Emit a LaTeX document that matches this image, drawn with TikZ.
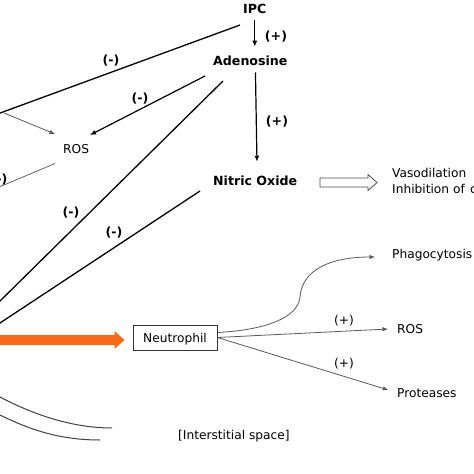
\documentclass[tikz,border=0pt]{standalone}
\usepackage{fontspec}
\setmainfont{DejaVu Sans}
\usetikzlibrary{arrows.meta}
\definecolor{orng}{RGB}{252,104,20}
\begin{document}
\begin{tikzpicture}[x=1pt,y=-1pt,
  tx/.style={font=\fontsize{12.2}{14}\selectfont, inner sep=0pt},
  bl/.style={font=\fontsize{12.6}{15}\selectfont\bfseries, inner sep=0pt},
  ln/.style={line width=1.3pt, black},
  arr/.style={line width=1.2pt, black, -{Latex[length=6pt,width=5pt]}},
  gln/.style={line width=0.8pt, black!60},
  garr/.style={line width=0.8pt, black!65, -{Latex[length=5.5pt,width=4.5pt]}},
  boxst/.style={draw=black!80, line width=0.8pt, inner sep=0pt, minimum width=84pt, minimum height=25pt, font=\fontsize{12.2}{14}\selectfont, text height=9pt, text depth=0pt},
  curv/.style={line width=1pt, black!75}]
\useasboundingbox (0,0) rectangle (474,474);

% nodes
\node[bl, anchor=base west] (ipc) at (243,13.3) {IPC};
\node[bl, anchor=base west] (ade) at (213,65) {Adenosine};
\node[bl, anchor=base west] (no) at (213,185) {Nitric Oxide};
\node[tx, anchor=base west] (ros1) at (63,153) {ROS};
\node[tx, anchor=base west] (vaso) at (392,177.5) {Vasodilation};
\node[tx, anchor=base west] (inh) at (392,193) {Inhibition of\hspace{1.5pt} c};
\node[boxst] (neu) at (175,337.5) {Neutrophil};
\node[tx, anchor=base west] (phago) at (392,258.5) {Phagocytosis};
\node[tx, anchor=base west] (ros2) at (397,333) {ROS};
\node[tx, anchor=base west] (prot) at (397,397) {Proteases};
\node[tx, anchor=base west] (inter) at (178,439) {[Interstitial space]};

% labels
\node[bl] (p1) at (276,37) {(+)};
\node[bl] (p2) at (277,122) {(+)};
\node[bl] (m1) at (111,61) {(-)};
\node[bl] (m2) at (140,99) {(-)};
\node[bl] (m3) at (71,213) {(-)};
\node[bl] (m4) at (114,233) {(-)};
\node[bl] (m5) at (-1,180) {(-)};
\node[tx] (p3) at (344,321) {(+)};
\node[tx] (p4) at (344,364) {(+)};

% coordinates
\coordinate (cI) at (240,25);
\coordinate (cL1) at (-2,113.8);
\coordinate (cR1s) at (4,113);
\coordinate (cR1e) at (55,134);
\coordinate (cA1) at (205,76);
\coordinate (cA1e) at (90,135);
\coordinate (cR2s) at (55,163.5);
\coordinate (cR2e) at (-2,187.5);
\coordinate (cA2) at (223,81);
\coordinate (cL3) at (-2,303);
\coordinate (cN1) at (200,191);
\coordinate (cL4) at (-2,324.3);
\coordinate (oL) at (-2,340);
\coordinate (phE) at (375,257);

% connectors
\draw[arr, shorten <=6.7pt, shorten >=8.5pt] (ipc.south) -- (ipc.south |- ade.north);
\draw[arr, shorten <=7pt, shorten >=13.5pt] ([xshift=5pt]ade.south) -- ([xshift=2pt]no.north);
\draw[ln] (cI) -- (cL1);
\draw[garr] (cR1s) -- (cR1e);
\draw[arr] (cA1) -- (cA1e);
\draw[gln] (cR2s) -- (cR2e);
\draw[ln] (cA2) -- (cL3);
\draw[ln] (cN1) -- (cL4);

% hollow arrow
\draw[line width=0.8pt, black!70] (320,178) -- (368,178) -- (368,174.5) -- (377,182.5) -- (368,190.5) -- (368,187) -- (320,187) -- cycle;

% orange arrow
\draw[orng, line width=10pt, -{Triangle[length=10pt,width=17pt]}] (oL) -- ([xshift=-8pt,yshift=-2.5pt]neu.west);

% neutrophil outputs
\draw[garr] ([yshift=5pt]neu.east) .. controls (265,330) and (298,318) .. (300,297) .. controls (302,270) and (330,257) .. (phE);
\draw[garr, shorten >=9pt] (neu.east) -- (ros2.west);
\draw[garr, shorten >=9pt] (neu.east) -- (prot.west);

% membrane arcs
\draw[curv] (-2,396) .. controls (30,413) and (70,428) .. (112,428);
\draw[curv] (-2,414) .. controls (30,430) and (60,440) .. (100,440);
\end{tikzpicture}
\end{document}
